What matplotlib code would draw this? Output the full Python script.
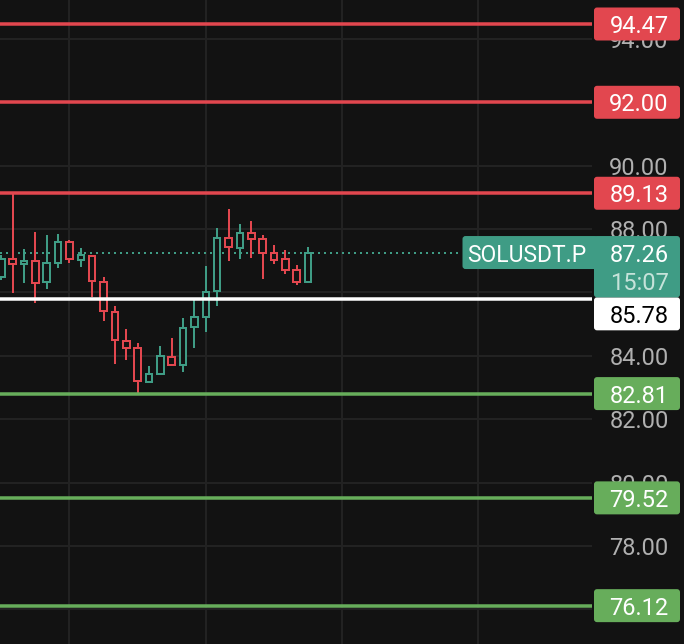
import matplotlib
matplotlib.use("Agg")
import matplotlib.pyplot as plt
from matplotlib.patches import Rectangle, FancyBboxPatch
from matplotlib import transforms

# ---------------- data ----------------
opens  = [86.50, 87.05, 86.89, 86.98, 86.32, 86.92, 87.58, 87.02, 87.16, 86.34, 85.39, 84.48, 84.24, 83.18,
          83.42, 83.97, 83.70, 84.90, 85.22, 86.04, 87.71, 87.41, 87.87, 87.68, 87.24, 87.05, 86.70, 86.32]
highs  = [87.18, 89.10, 87.37, 87.92, 87.81, 87.85, 87.66, 87.39, 87.17, 86.48, 85.57, 84.85, 84.40, 83.68,
          84.31, 84.56, 85.20, 85.76, 86.84, 88.03, 88.63, 88.16, 88.26, 87.81, 87.50, 87.34, 86.87, 87.44]
lows   = [86.39, 85.99, 86.31, 85.66, 86.12, 86.78, 86.92, 86.81, 85.87, 85.11, 83.75, 83.87, 82.84, 83.17,
          83.42, 83.69, 83.50, 84.26, 84.76, 85.58, 87.00, 87.07, 87.10, 86.44, 86.91, 86.59, 86.25, 86.31]
closes = [87.06, 86.89, 86.99, 86.31, 86.92, 87.58, 87.05, 87.17, 86.36, 85.42, 84.50, 84.24, 83.20, 83.42,
          83.99, 83.70, 84.87, 85.22, 86.01, 87.71, 87.43, 87.87, 87.68, 87.24, 87.02, 86.70, 86.32, 87.26]

resistance_levels = [94.47, 92.00, 89.13]
support_levels = [82.81, 79.52, 76.12]
pivot_level = 85.78
last_price = 87.26
countdown = "15:07"
symbol = "SOLUSDT.P"
price_ticks = [76, 78, 80, 82, 84, 86, 88, 90, 92, 94]
tick_labels_shown = [78, 80, 82, 84, 88, 90, 94]   # others are fully covered by level boxes
time_grid = [6, 18, 30, 42]

# ---------------- style ----------------
BG = "#121212"
GRID = "#222222"
UP = "#3f9c85"
DOWN = "#e2474f"
RES = "#e2474f"
SUP = "#67ad5b"
TICK = "#b0b0b0"
plt.rcParams["font.family"] = ["Roboto", "DejaVu Sans"]

W, H = 684, 644
PLOT_W = 592
YMIN, YMAX = 74.91, 95.227
PXU = H / (YMAX - YMIN)          # pixels per price unit
XMIN, XMAX = -0.114, 51.99

fig = plt.figure(figsize=(W / 100, H / 100), dpi=100, facecolor=BG)
ax = fig.add_axes([0, 0, PLOT_W / W, 1])
ax.set_facecolor(BG)
ax.set_xlim(XMIN, XMAX)
ax.set_ylim(YMIN, YMAX)
ax.axis("off")

ax2 = fig.add_axes([PLOT_W / W, 0, (W - PLOT_W) / W, 1])
ax2.set_facecolor(BG)
ax2.set_xlim(0, W - PLOT_W)
ax2.set_ylim(YMIN, YMAX)
ax2.axis("off")

px = 0.72  # points per pixel at 100 dpi

# grid
for t in price_ticks:
    ax.axhline(t, color=GRID, lw=2 * px, zorder=0)
for g in time_grid:
    ax.axvline(g, color=GRID, lw=2 * px, zorder=0)

# candles
bw = 6.5 / ((PLOT_W) / (XMAX - XMIN))
for i, (o, h, l, c) in enumerate(zip(opens, highs, lows, closes)):
    col = UP if c >= o else DOWN
    ax.vlines(i, l, h, color=col, lw=2 * px, zorder=2)
    lo, hi = min(o, c), max(o, c)
    ax.add_patch(Rectangle((i - bw / 2, lo), bw, hi - lo, facecolor=BG,
                           edgecolor=col, lw=2 * px, zorder=3))

# levels
for lv in resistance_levels:
    ax.axhline(lv, color=RES, lw=3.5 * px, zorder=4)
for lv in support_levels:
    ax.axhline(lv, color=SUP, lw=3.5 * px, zorder=4)
ax.axhline(pivot_level, color="white", lw=3.5 * px, zorder=4)

# last price dotted line
ax.axhline(last_price, xmin=0, xmax=458 / PLOT_W, color=UP, lw=2 * px,
           linestyle=(0, (1, 2)), zorder=1)

# symbol label
bt = transforms.blended_transform_factory(ax.transAxes, ax.transData)
bh = 33 / PXU
x0 = 462.5 / PLOT_W
ax.add_patch(FancyBboxPatch((x0, last_price - bh / 2), 1 - x0 + 0.01, bh,
                            boxstyle="round,pad=0,rounding_size=%f" % (3 / PLOT_W),
                            mutation_aspect=PLOT_W / PXU, transform=bt,
                            facecolor=UP, edgecolor="none", zorder=6, clip_on=False))
ax.text((462.5 + PLOT_W) / 2 / PLOT_W, last_price, symbol, transform=bt, color="white",
        fontsize=16.5, ha="center", va="center_baseline", zorder=7)

# price-scale tick labels
LX = 47
for t in tick_labels_shown:
    ax2.text(LX, t, "%.2f" % t, color=TICK, fontsize=17, ha="center",
             va="center_baseline", zorder=1)


def box(y_top, height, color, zorder=5):
    ax2.add_patch(FancyBboxPatch((2, y_top - height), 86, height,
                                 boxstyle="round,pad=0,rounding_size=3",
                                 mutation_aspect=1 / PXU,
                                 facecolor=color, edgecolor="none", zorder=zorder))


for lv in resistance_levels:
    box(lv + bh / 2, bh, RES)
    ax2.text(LX, lv, "%.2f" % lv, color="white", fontsize=17, ha="center",
             va="center_baseline", zorder=7)
for lv in support_levels:
    box(lv + bh / 2, bh, SUP)
    ax2.text(LX, lv, "%.2f" % lv, color="white", fontsize=17, ha="center",
             va="center_baseline", zorder=7)

# last price box (price + countdown)
tall = 61.3 / PXU
top = last_price + bh / 2
box(top, tall, UP, zorder=6)
ax2.text(LX, last_price, "%.2f" % last_price, color="white", fontsize=17,
         ha="center", va="center_baseline", zorder=7)
ax2.text(LX, last_price - 28.5 / PXU, countdown, color="#c6e3da", fontsize=17,
         ha="center", va="center_baseline", zorder=7)

# pivot box (pushed below last price box)
ptop = top - tall
box(ptop, bh, "white", zorder=5)
ax2.text(LX, ptop - bh / 2, "%.2f" % pivot_level, color="black", fontsize=17,
         ha="center", va="center_baseline", zorder=7)

fig.savefig("out.png", dpi=100, facecolor=BG)
